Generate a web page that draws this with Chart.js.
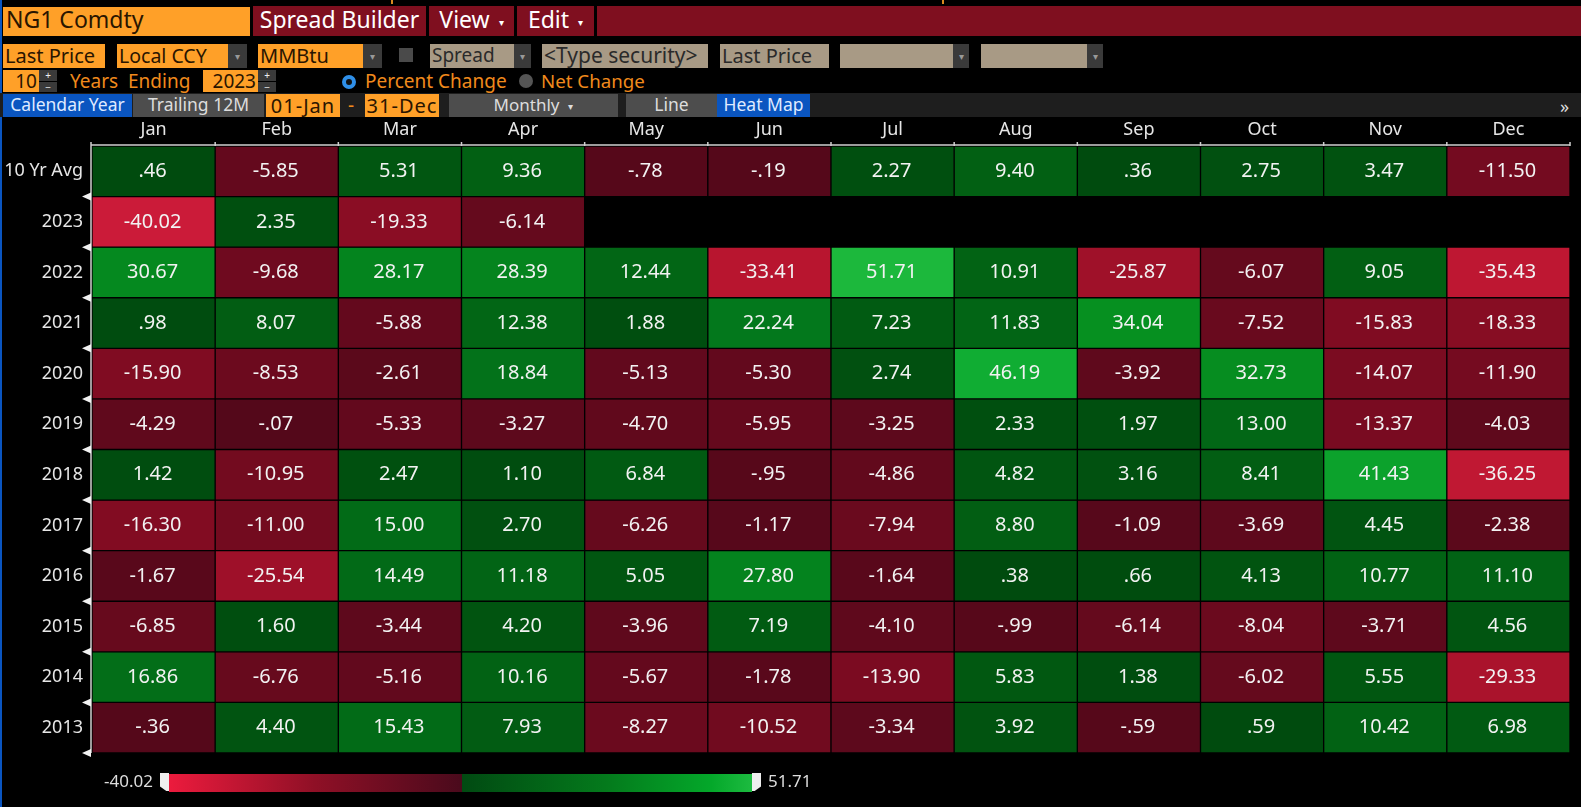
<!DOCTYPE html>
<html>
<head>
<meta charset="utf-8">
<title>NG1 Comdty seasonality</title>
<script src="https://cdn.jsdelivr.net/npm/chart.js@4"></script>
<style>
html, body { margin: 0; padding: 0; background: #000; overflow: hidden; }
#page { position: relative; width: 1581px; height: 807px; background: #000; overflow: hidden;
  font-family: "Noto Sans", "Liberation Sans", sans-serif; }
#chartBox { position: absolute; left: 0; top: 118px; width: 1581px; height: 689px; }
.b { position: absolute; box-sizing: border-box; white-space: nowrap; line-height: 1; padding-top: 2px; }
.or { background: #ffa028; color: #2a1500; }
.red { background: #7f0f1f; color: #fff; }
.tan { background: #a89a85; color: #2a2a2a; }
.gr { background: #4d4d4d; color: #ddd; text-align: center; }
.dk { background: #3a3a3a; color: #999; text-align: center; }
.bl { background: #0a55c0; color: #dfeaff; text-align: center; }
.tx { position: absolute; color: #f08a1c; white-space: nowrap; line-height: 1; }
.ar { font-size: 10px; vertical-align: middle; margin-left: 9px; }
</style>
</head>
<body>
<div id="page">
  <div style="position:absolute;left:0;top:0;width:2px;height:807px;background:#0a55c0"></div>
  <div style="position:absolute;left:391px;top:0;width:2px;height:4px;background:#d98a20"></div>
  <div style="position:absolute;left:942px;top:0;width:2px;height:4px;background:#d98a20"></div>
  <div class="b or" style="left:3px;top:7px;width:247px;height:29px;font-size:23px;padding-left:3px;padding-top:1px">NG1 Comdty</div>
  <div class="b red" style="left:253px;top:6px;width:173px;height:30px;font-size:23px;text-align:center;padding-top:2px">Spread Builder</div>
  <div class="b red" style="left:429px;top:6px;width:85px;height:30px;font-size:23px;text-align:center;padding-top:2px">View<span class="ar">&#9662;</span></div>
  <div class="b red" style="left:517px;top:6px;width:77px;height:30px;font-size:23px;text-align:center;padding-top:2px">Edit<span class="ar">&#9662;</span></div>
  <div style="position:absolute;left:597px;top:6px;width:984px;height:30px;background:#7f0f1f"></div>

  <div class="b or" style="left:3px;top:44px;width:102px;height:24px;font-size:20px;padding-left:2px">Last Price</div>
  <div class="b or" style="left:117px;top:44px;width:111px;height:24px;font-size:19.5px;padding-left:2px">Local CCY</div>
  <div class="b dk" style="left:228px;top:44px;width:19px;height:24px;font-size:10px;padding-top:7px">&#9662;</div>
  <div class="b or" style="left:258px;top:44px;width:105px;height:24px;font-size:20px;padding-left:2px">MMBtu</div>
  <div class="b dk" style="left:363px;top:44px;width:19px;height:24px;font-size:10px;padding-top:7px">&#9662;</div>
  <div class="b dk" style="left:399px;top:48px;width:14px;height:14px;background:#4a4a4a"></div>
  <div class="b tan" style="left:430px;top:44px;width:84px;height:24px;font-size:19px;padding-left:2px">Spread</div>
  <div class="b dk" style="left:514px;top:44px;width:17px;height:24px;font-size:10px;padding-top:7px">&#9662;</div>
  <div class="b tan" style="left:542px;top:44px;width:166px;height:24px;font-size:21px;padding-left:2px;padding-top:1px">&lt;Type security&gt;</div>
  <div class="b tan" style="left:720px;top:44px;width:109px;height:24px;font-size:20px;padding-left:2px">Last Price</div>
  <div class="b tan" style="left:840px;top:44px;width:113px;height:24px"></div>
  <div class="b dk" style="left:953px;top:44px;width:16px;height:24px;font-size:10px;padding-top:7px">&#9662;</div>
  <div class="b tan" style="left:981px;top:44px;width:106px;height:24px"></div>
  <div class="b dk" style="left:1087px;top:44px;width:16px;height:24px;font-size:10px;padding-top:7px">&#9662;</div>

  <div class="b or" style="left:3px;top:70px;width:36px;height:22px;font-size:19px;text-align:right;padding-right:2px">10</div>
  <div class="b dk" style="left:39px;top:70px;width:18px;height:11px;font-size:10px;padding:0;color:#eee">+</div>
  <div class="b dk" style="left:39px;top:82px;width:18px;height:10px;font-size:10px;padding:0;color:#eee">&minus;</div>
  <div class="tx" style="left:70px;top:72px;font-size:19px">Years &nbsp;Ending</div>
  <div class="b or" style="left:203px;top:70px;width:55px;height:22px;font-size:19px;text-align:right;padding-right:2px">2023</div>
  <div class="b dk" style="left:258px;top:70px;width:18px;height:11px;font-size:10px;padding:0;color:#eee">+</div>
  <div class="b dk" style="left:258px;top:82px;width:18px;height:10px;font-size:10px;padding:0;color:#eee">&minus;</div>
  <div style="position:absolute;left:342px;top:75px;width:6px;height:6px;border:4px solid #2f8fe8;border-radius:50%;background:#111"></div>
  <div class="tx" style="left:365px;top:72px;font-size:19px">Percent Change</div>
  <div style="position:absolute;left:519px;top:74px;width:14px;height:14px;border-radius:50%;background:#555"></div>
  <div class="tx" style="left:541px;top:72px;font-size:18.7px">Net Change</div>

  <div style="position:absolute;left:0;top:93px;width:1581px;height:24px;background:#1e1e1e"></div>
  <div class="b bl" style="left:3px;top:94px;width:129px;height:23px;font-size:17.5px">Calendar Year</div>
  <div class="b gr" style="left:133px;top:94px;width:131px;height:23px;font-size:17.5px">Trailing 12M</div>
  <div class="b or" style="left:266px;top:94px;width:74px;height:23px;font-size:20px;letter-spacing:1px;text-align:center">01-Jan</div>
  <div class="tx" style="left:348px;top:96px;font-size:19px">-</div>
  <div class="b or" style="left:365px;top:94px;width:74px;height:23px;font-size:20px;letter-spacing:1px;text-align:center">31-Dec</div>
  <div class="b gr" style="left:449px;top:94px;width:169px;height:23px;font-size:17px">Monthly<span class="ar">&#9662;</span></div>
  <div class="b gr" style="left:626px;top:94px;width:91px;height:23px;font-size:17.5px">Line</div>
  <div class="b bl" style="left:717px;top:94px;width:93px;height:23px;font-size:17.5px">Heat Map</div>
  <div class="tx" style="left:1560px;top:97px;font-size:18px;color:#ddd">&raquo;</div>

  <div id="chartBox"><canvas id="heat"></canvas></div>

  <div class="tx" style="left:104px;top:772px;font-size:17px;color:#ddd">-40.02</div>
  <div class="tx" style="left:768px;top:772px;font-size:17px;color:#ddd">51.71</div>
  <div style="position:absolute;left:160px;top:773px;width:9px;height:18px;background:#eee;clip-path:polygon(0 0,100% 0,100% 100%,70% 100%,0 75%)"></div>
  <div style="position:absolute;left:169px;top:774px;width:583px;height:18px;background:linear-gradient(90deg,#ec1b3d 0%,#8f1026 25%,#4a0a1c 50.2%,#014a12 50.3%,#047a1c 75%,#04a82a 93%,#1dbb40 100%)"></div>
  <div style="position:absolute;left:752px;top:773px;width:9px;height:18px;background:#eee;clip-path:polygon(0 0,100% 0,100% 75%,30% 100%,0 100%)"></div>
</div>

<script>
const months = ['Jan', 'Feb', 'Mar', 'Apr', 'May', 'Jun', 'Jul', 'Aug', 'Sep', 'Oct', 'Nov', 'Dec'];
const rowLabels = ['10 Yr Avg', '2023', '2022', '2021', '2020', '2019', '2018', '2017', '2016', '2015', '2014', '2013'];

const avg10 = [0.46, -5.85, 5.31, 9.36, -0.78, -0.19, 2.27, 9.40, 0.36, 2.75, 3.47, -11.50];
const y2023 = [-40.02, 2.35, -19.33, -6.14, null, null, null, null, null, null, null, null];
const y2022 = [30.67, -9.68, 28.17, 28.39, 12.44, -33.41, 51.71, 10.91, -25.87, -6.07, 9.05, -35.43];
const y2021 = [0.98, 8.07, -5.88, 12.38, 1.88, 22.24, 7.23, 11.83, 34.04, -7.52, -15.83, -18.33];
const y2020 = [-15.90, -8.53, -2.61, 18.84, -5.13, -5.30, 2.74, 46.19, -3.92, 32.73, -14.07, -11.90];
const y2019 = [-4.29, -0.07, -5.33, -3.27, -4.70, -5.95, -3.25, 2.33, 1.97, 13.00, -13.37, -4.03];
const y2018 = [1.42, -10.95, 2.47, 1.10, 6.84, -0.95, -4.86, 4.82, 3.16, 8.41, 41.43, -36.25];
const y2017 = [-16.30, -11.00, 15.00, 2.70, -6.26, -1.17, -7.94, 8.80, -1.09, -3.69, 4.45, -2.38];
const y2016 = [-1.67, -25.54, 14.49, 11.18, 5.05, 27.80, -1.64, 0.38, 0.66, 4.13, 10.77, 11.10];
const y2015 = [-6.85, 1.60, -3.44, 4.20, -3.96, 7.19, -4.10, -0.99, -6.14, -8.04, -3.71, 4.56];
const y2014 = [16.86, -6.76, -5.16, 10.16, -5.67, -1.78, -13.90, 5.83, 1.38, -6.02, 5.55, -29.33];
const y2013 = [-0.36, 4.40, 15.43, 7.93, -8.27, -10.52, -3.34, 3.92, -0.59, 0.59, 10.42, 6.98];

const rows = [avg10, y2023, y2022, y2021, y2020, y2019, y2018, y2017, y2016, y2015, y2014, y2013];
const minVal = -40.02;
const maxVal = 51.71;

// colour stops picked off the reference cells
const redStops = [[0, [84, 8, 26]], [0.5, [140, 13, 36]], [0.83, [183, 21, 47]], [1, [203, 27, 57]]];
const greenStops = [[0, [0, 74, 14]], [0.2, [2, 98, 20]], [0.43, [3, 120, 28]], [0.66, [6, 144, 32]], [0.89, [16, 173, 51]], [1, [28, 184, 60]]];
const fontFamily = '"Noto Sans", "Liberation Sans", sans-serif';

function mix(stops, t) {
    for (let i = 1; i < stops.length; i++) {
        if (t <= stops[i][0]) {
            const [t0, c0] = stops[i - 1];
            const [t1, c1] = stops[i];
            const k = (t - t0) / (t1 - t0);
            const c = c0.map((v, j) => Math.round(v + (c1[j] - v) * k));
            return `rgb(${c[0]},${c[1]},${c[2]})`;
        }
    }
    return 'rgb(28,184,60)';
}

function cellColor(v) {
    return v < 0 ? mix(redStops, v / minVal) : mix(greenStops, v / maxVal);
}

// 5.31 -> "5.31", 0.46 -> ".46", -0.78 -> "-.78"
function fmt(v) {
    return v.toFixed(2).replace(/^(-?)0\./, '$1.');
}

const cellLabels = {
    id: 'cellLabels',
    afterDatasetsDraw(chart) {
        const ctx = chart.ctx;
        ctx.save();
        ctx.font = `20px ${fontFamily}`;
        ctx.fillStyle = '#f2f2f2';
        ctx.textAlign = 'center';
        ctx.textBaseline = 'middle';
        chart.data.datasets.forEach((ds, d) => {
            chart.getDatasetMeta(d).data.forEach((bar, m) => {
                const v = rows[d][m];
                if (v === null) return;
                ctx.fillText(fmt(v), bar.x - 1, (bar.y + bar.base) / 2);
            });
        });
        ctx.restore();
    }
};

// white bracket on the axes: rule under the month row, rule down the left, notches between rows
const axisMarks = {
    id: 'axisMarks',
    afterDatasetsDraw(chart) {
        const ctx = chart.ctx;
        const x = chart.scales.x;
        const y = chart.scales.y;
        ctx.save();
        ctx.strokeStyle = '#cfcfcf';
        ctx.fillStyle = '#f2f2f2';
        ctx.lineWidth = 1.5;
        ctx.beginPath();
        ctx.moveTo(x.left - 1, y.top - 1);
        ctx.lineTo(x.right, y.top - 1);
        ctx.moveTo(x.left - 1, y.top - 4);
        ctx.lineTo(x.left - 1, y.bottom);
        for (let i = 1; i <= months.length; i++) {
            const px = x.left + (x.right - x.left) * i / months.length;
            ctx.moveTo(px, y.top - 4);
            ctx.lineTo(px, y.top);
        }
        ctx.stroke();
        for (let r = 1; r <= rows.length; r++) {
            const py = y.getPixelForValue(r);
            ctx.beginPath();
            ctx.moveTo(x.left - 1, py - 4);
            ctx.lineTo(x.left - 10, py);
            ctx.lineTo(x.left - 1, py + 4);
            ctx.fill();
        }
        ctx.restore();
    }
};

new Chart(document.getElementById('heat'), {
    type: 'bar',
    data: {
        labels: months,
        datasets: rows.map((row, r) => ({
            label: rowLabels[r],
            // each bar spans its row on the hidden y scale, the value only sets colour and text
            data: row.map(v => (v === null ? null : [r, r + 1])),
            backgroundColor: row.map(v => (v === null ? 'transparent' : cellColor(v))),
            borderColor: '#000',
            borderWidth: 1,
            borderSkipped: false,
            grouped: false,
            barPercentage: 1,
            categoryPercentage: 1
        }))
    },
    plugins: [cellLabels, axisMarks],
    options: {
        responsive: true,
        maintainAspectRatio: false,
        animation: false,
        layout: { padding: { left: 0, right: 11, top: 0, bottom: 54 } },
        plugins: { legend: { display: false }, tooltip: { enabled: false } },
        scales: {
            x: {
                type: 'category',
                position: 'top',
                offset: true,
                afterFit: scale => { scale.height = 28; },
                grid: { display: false, drawTicks: false },
                border: { display: false },
                ticks: { color: '#e6e6e6', font: { size: 18, family: fontFamily }, padding: 5, maxRotation: 0 }
            },
            y: {
                type: 'linear',
                min: 0,
                max: rows.length,
                reverse: true,
                display: false
            },
            rowAxis: {
                type: 'category',
                labels: rowLabels,
                position: 'left',
                offset: true,
                afterFit: scale => { scale.width = 92; },
                grid: { display: false, drawTicks: false },
                border: { display: false },
                ticks: { color: '#e6e6e6', font: { size: 18, family: fontFamily }, padding: 9, autoSkip: false }
            }
        }
    }
});
</script>
</body>
</html>
